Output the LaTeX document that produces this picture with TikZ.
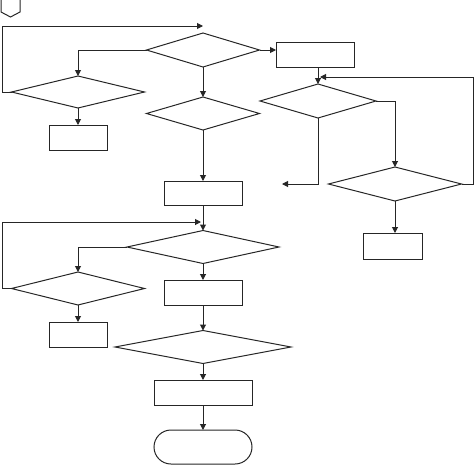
\documentclass[tikz,border=0pt]{standalone}
\usetikzlibrary{shapes.geometric,arrows.meta}
\begin{document}
\begin{tikzpicture}[x=1pt,y=-1pt,
  line/.style={draw=black!85,line width=1pt},
  arr/.style={line,-{Triangle[length=6pt,width=6pt]}},
  dec/.style={diamond,line,inner sep=0pt,outer sep=0pt},
  proc/.style={rectangle,line,inner sep=0pt,outer sep=0pt},
  term/.style={rectangle,line,rounded corners=17pt,inner sep=0pt,outer sep=0pt}]
\useasboundingbox (0,0) rectangle (474,469);
% off-page connector
\draw[line] (1,0) -- (1,12) -- (10.5,17) -- (20,12) -- (20,0);
% nodes
\node[dec,minimum width=113pt,minimum height=34pt] (D1) at (203,50) {};
\node[dec,minimum width=133pt,minimum height=32pt] (D2) at (78,92) {};
\node[proc,minimum width=58pt,minimum height=25pt] (B1) at (78,137.5) {};
\node[dec,minimum width=113pt,minimum height=33pt] (D3) at (203,113.5) {};
\node[proc,minimum width=78pt,minimum height=24pt] (B2) at (203,193) {};
\node[proc,minimum width=78pt,minimum height=25pt] (B3) at (315,54.5) {};
\node[dec,minimum width=116pt,minimum height=34pt] (D4) at (318,101) {};
\node[dec,minimum width=133pt,minimum height=34pt] (D5) at (395,184) {};
\node[proc,minimum width=59pt,minimum height=26pt] (B4) at (392.5,246) {};
\node[dec,minimum width=152pt,minimum height=33pt] (D6) at (203,247) {};
\node[dec,minimum width=133pt,minimum height=33pt] (D7) at (78,288.5) {};
\node[proc,minimum width=58pt,minimum height=25pt] (B5) at (78,334.5) {};
\node[proc,minimum width=78pt,minimum height=25pt] (B6) at (203,292.5) {};
\node[dec,minimum width=176pt,minimum height=33pt] (D8) at (203,347) {};
\node[proc,minimum width=98pt,minimum height=25pt] (B7) at (203,392.5) {};
\node[term,minimum width=98pt,minimum height=34pt] (T) at (203,447) {};
% free ends
\coordinate (c1) at (2,26);
\coordinate (t1) at (203,26);
\coordinate (c2) at (473,77);
\coordinate (t2) at (320,77);
\coordinate (t3) at (282,184);
\coordinate (c3) at (2,222);
\coordinate (t4) at (201,222);
% connectors
\draw[arr] (D2.west) -| (c1) -- (t1);
\draw[arr] (D1.west) -| (D2.north);
\draw[arr] (D2.south) -- (B1.north);
\draw[arr] (D1.south) -- (D3.north);
\draw[arr] (D3.south) -- (B2.north);
\draw[arr] (D1.east) -- (D1.east -| B3.west);
\draw[arr] (D4.north |- B3.south) -- (D4.north);
\draw[arr] (D4.east) -| (D5.north);
\draw[arr] (D5.east) -| (c2) -- (t2);
\draw[arr] (D4.south) |- (t3);
\draw[arr] (D5.south) -- (D5.south |- B4.north);
\draw[arr] (B2.south) -- (D6.north);
\draw[arr] (D7.west) -| (c3) -- (t4);
\draw[arr] (D6.west) -| (D7.north);
\draw[arr] (D7.south) -- (B5.north);
\draw[arr] (D6.south) -- (B6.north);
\draw[arr] (B6.south) -- (D8.north);
\draw[arr] (D8.south) -- (B7.north);
\draw[arr] (B7.south) -- (T.north);
\end{tikzpicture}
\end{document}
